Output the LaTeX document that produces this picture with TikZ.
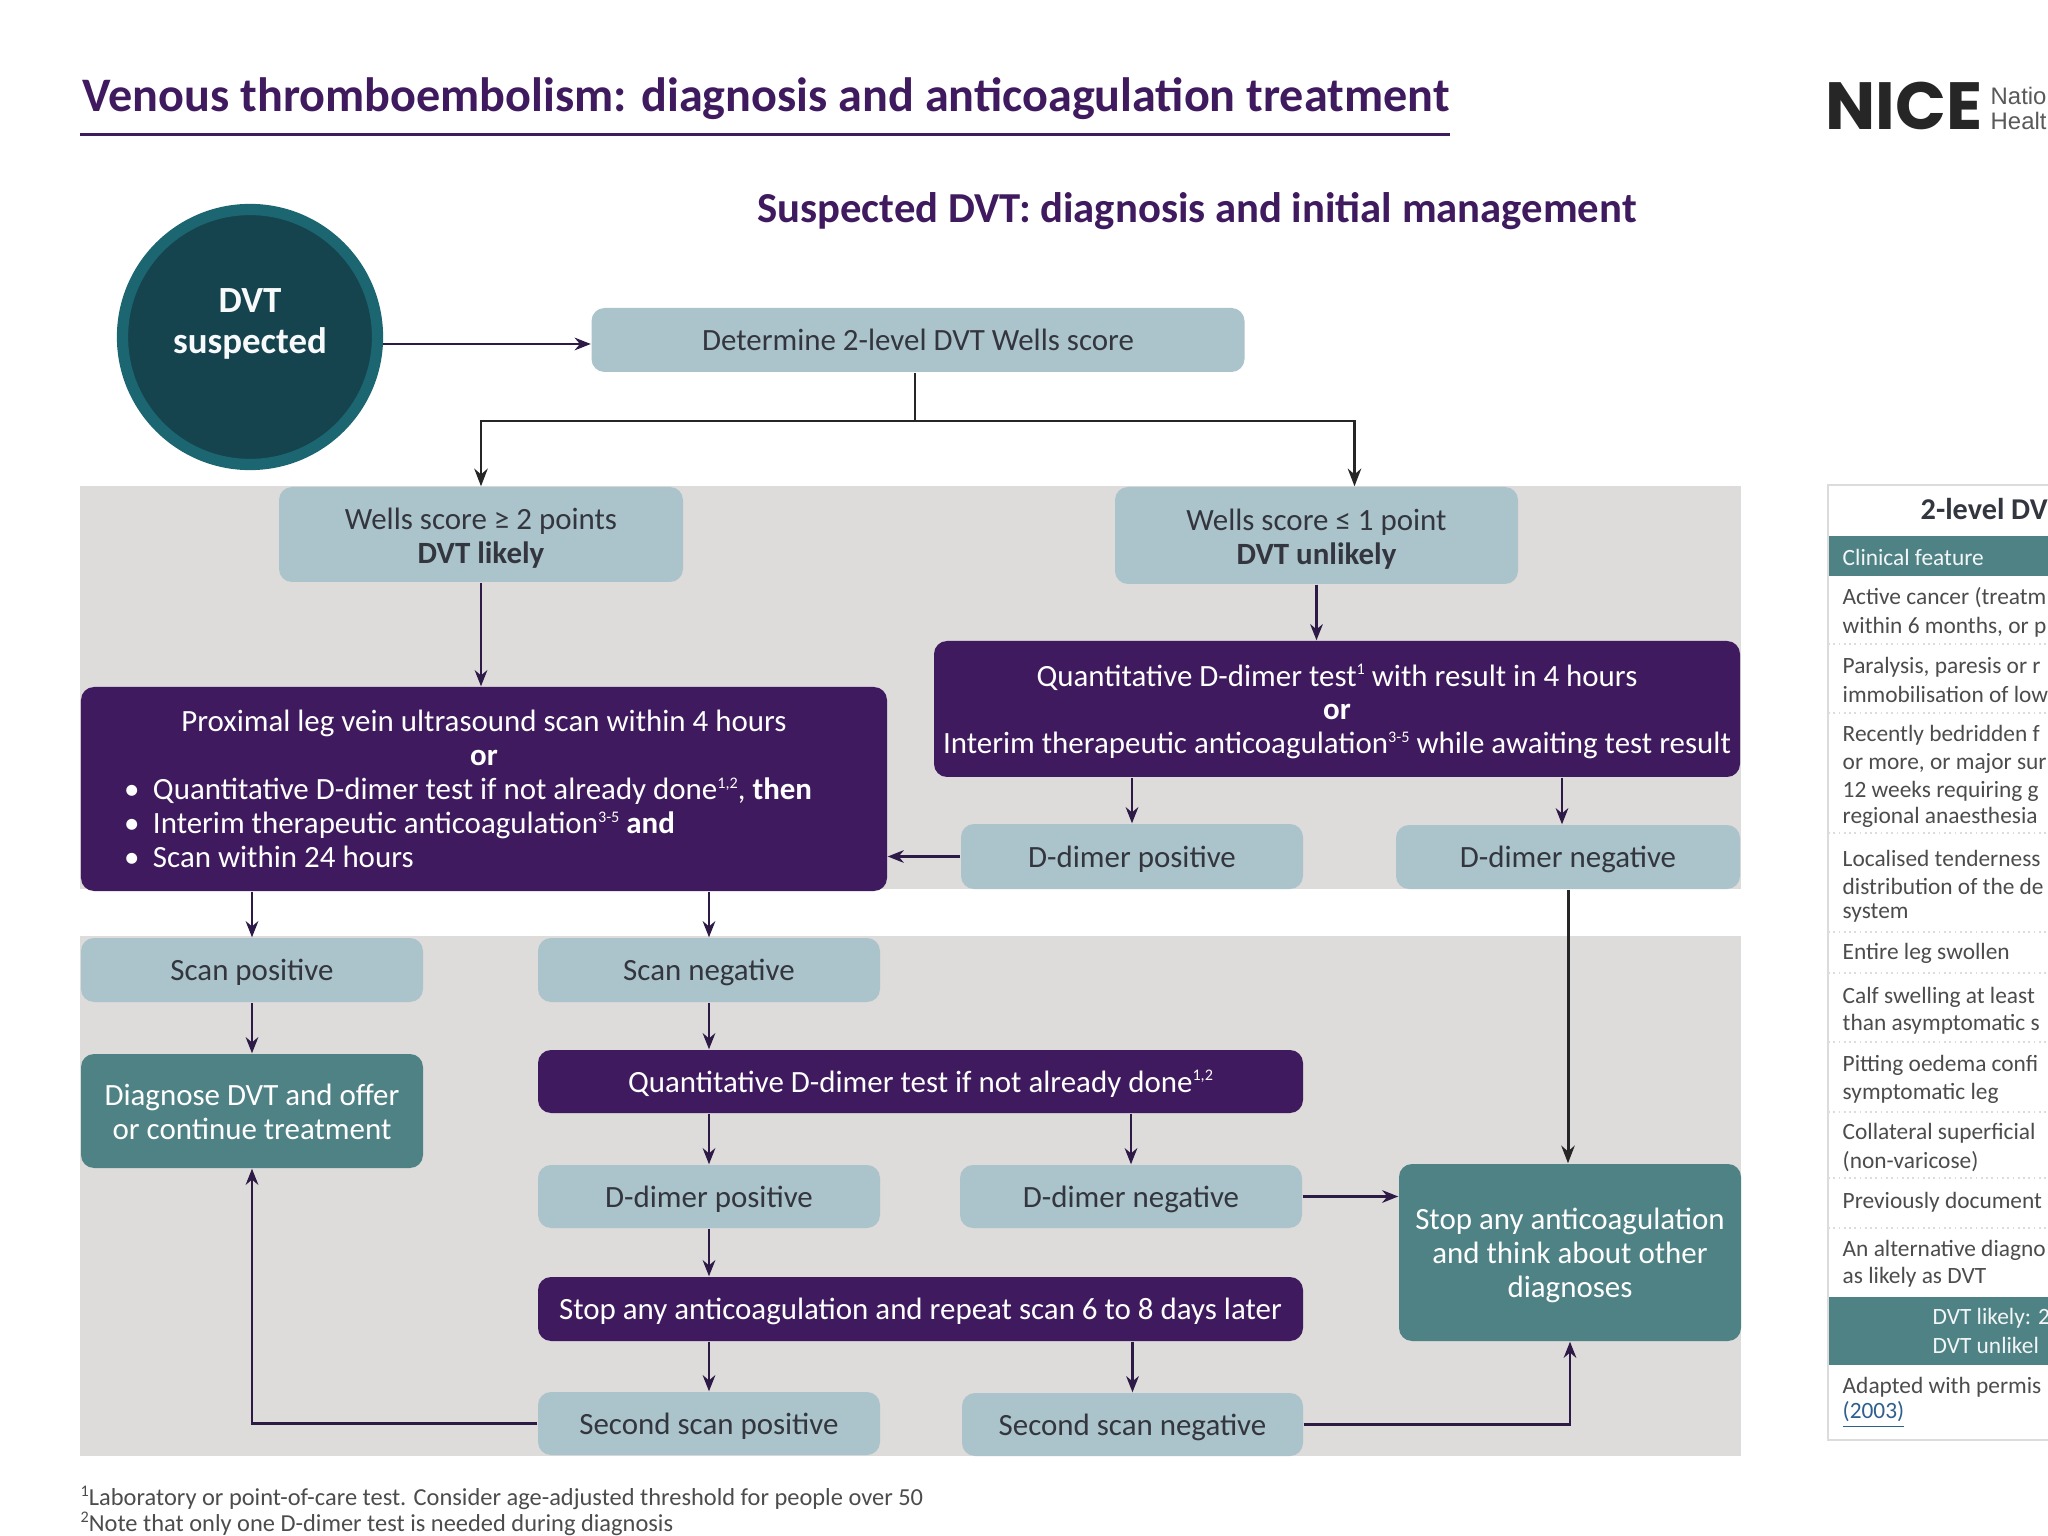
\documentclass[tikz,border=0pt]{standalone}
\usepackage{fontspec}
\setmainfont{Carlito}
\newfontfamily\logofont{Poppins}
\newfontfamily\logosmall{Liberation Sans}
\usepackage{xcolor}
\definecolor{nicePurple}{HTML}{3F1A5E}
\definecolor{niceLine}{HTML}{2E1A47}
\definecolor{niceBlue}{HTML}{ABC3CA}
\definecolor{niceBand}{HTML}{DEDBDB}
\definecolor{niceTeal}{HTML}{4F8285}
\definecolor{niceDark}{HTML}{15444E}
\definecolor{niceRing}{HTML}{1B6670}
\definecolor{niceInk}{HTML}{33363F}
\definecolor{niceGrey}{HTML}{4C4C4C}
\definecolor{niceRule}{HTML}{DCDCDC}
\definecolor{niceLink}{HTML}{2F5F8F}
\usetikzlibrary{arrows.meta}
\tikzset{
  boxtext/.style={rounded corners=1.3mm, inner sep=0pt, align=center},
  oneline/.style={text height=6pt, text depth=0pt},
  twolines/.style={text height=16.4pt, text depth=0pt},
  threelines/.style={text height=25.6pt, text depth=0pt},
  bluebox/.style={boxtext, fill=niceBlue, text=niceInk},
  purplebox/.style={boxtext, fill=nicePurple, text=white},
  tealbox/.style={boxtext, fill=niceTeal, text=white},
  flow/.style={draw=niceLine, line width=0.7pt, -{Stealth[length=4.6pt,width=3.6pt]}},
  blackflow/.style={draw=black!85, line width=0.85pt, -{Stealth[length=5pt,width=3.8pt]}},
  rowtext/.style={anchor=west, inner sep=0pt, text=niceGrey, font=\fontsize{6.65}{7.5}\selectfont},
  rowrule/.style={niceRule, line width=0.5pt, densely dotted},
  foot/.style={anchor=west, inner sep=0pt, text=niceGrey, font=\fontsize{6.95}{7.5}\selectfont}
}
\newcommand{\bulletline}[1]{\hspace*{0.43cm}\makebox[0.29cm][l]{\textbullet}#1}
\newcommand{\supnum}[1]{\raisebox{0.75ex}{\fontsize{4.6}{5}\selectfont #1}}

\begin{document}
\begin{tikzpicture}[font=\fontsize{8.8}{9.67}\selectfont]
  \useasboundingbox (0,0) rectangle (20.48,-15.36);
  \clip (0,0) rectangle (20.48,-15.36);
  \fill[white] (0,0) rectangle (20.48,-15.36);

  % headings
  \node[anchor=west, inner sep=0pt, text=nicePurple, font=\fontsize{13.7}{15}\selectfont\bfseries] (title) at (0.82,-0.985) {Venous thromboembolism: diagnosis and anticoagulation treatment};
  \draw[nicePurple, line width=0.6pt] (0.80,-1.345) -- (14.50,-1.345);
  \node[text=nicePurple, inner sep=0pt, font=\fontsize{12.15}{14}\selectfont\bfseries] (subtitle) at (11.97,-2.115) {Suspected DVT: diagnosis and initial management};

  % logo
  \node[anchor=west, inner sep=0pt, text=black!85, font=\logofont\fontsize{19}{20}\selectfont\bfseries] (nice) at (18.25,-1.06) {NICE};
  \node[anchor=west, inner sep=0pt, align=left, text=black!65, font=\logosmall\fontsize{6.8}{7.3}\selectfont] (nicename) at (19.90,-1.085) {Natio\\Healt};

  % bands
  \fill[niceBand] (0.80,-4.86) rectangle (17.41,-8.89);
  \fill[niceBand] (0.80,-9.36) rectangle (17.41,-14.56);

  % start
  \node[circle, fill=niceDark, draw=niceRing, line width=3.2pt, minimum size=2.55cm, inner sep=0pt, align=center, text=white!90!niceBlue, font=\fontsize{10.5}{11.6}\selectfont\bfseries] (dvt) at (2.50,-3.37) {DVT\\suspected\\[-2.5pt]\mbox{}};
  \node[bluebox, oneline, minimum width=6.53cm, minimum height=0.64cm] (determine) at (9.18,-3.40) {Determine 2-level DVT Wells score};
  \node[bluebox, twolines, minimum width=4.04cm, minimum height=0.95cm] (likely) at (4.81,-5.345) {Wells score ≥ 2 points\\\textbf{DVT likely}};
  \node[bluebox, twolines, minimum width=4.03cm, minimum height=0.97cm] (unlikely) at (13.165,-5.355) {Wells score ≤ 1 point\\\textbf{DVT unlikely}};

  \node[purplebox, minimum width=8.06cm, minimum height=2.04cm, text width=8.06cm, align=flush left] (proximal) at (4.84,-7.89) {%
    \makebox[\linewidth]{Proximal leg vein ultrasound scan within 4 hours}\\
    \makebox[\linewidth]{\textbf{or}}\\
    \bulletline{Quantitative D-dimer test if not already done\supnum{1,2}, \textbf{then}}\\
    \bulletline{Interim therapeutic anticoagulation\supnum{3-5} \textbf{and}}\\
    \bulletline{Scan within 24 hours}};
  \node[purplebox, threelines, minimum width=8.06cm, minimum height=1.36cm] (quantfirst) at (13.37,-7.09) {Quantitative D-dimer test\supnum{1} with result in 4 hours\\\textbf{or}\\Interim therapeutic anticoagulation\supnum{3-5} while awaiting test result};
  \node[bluebox, oneline, minimum width=3.42cm, minimum height=0.65cm] (dposfirst) at (11.32,-8.565) {D-dimer positive};
  \node[bluebox, oneline, minimum width=3.44cm, minimum height=0.64cm] (dnegfirst) at (15.68,-8.57) {D-dimer negative};

  \node[bluebox, oneline, minimum width=3.42cm, minimum height=0.64cm] (scanpos) at (2.52,-9.70) {Scan positive};
  \node[bluebox, oneline, minimum width=3.42cm, minimum height=0.64cm] (scanneg) at (7.09,-9.70) {Scan negative};
  \node[tealbox, twolines, minimum width=3.42cm, minimum height=1.14cm] (diagnose) at (2.52,-11.11) {Diagnose DVT and offer\\or continue treatment};
  \node[purplebox, oneline, minimum width=7.65cm, minimum height=0.63cm] (quantsecond) at (9.205,-10.815) {Quantitative D-dimer test if not already done\supnum{1,2}};
  \node[bluebox, oneline, minimum width=3.42cm, minimum height=0.63cm] (dpossecond) at (7.09,-11.965) {D-dimer positive};
  \node[bluebox, oneline, minimum width=3.42cm, minimum height=0.63cm] (dnegsecond) at (11.31,-11.965) {D-dimer negative};
  \node[tealbox, threelines, minimum width=3.42cm, minimum height=1.77cm] (stop) at (15.70,-12.525) {Stop any anticoagulation\\and think about other\\diagnoses};
  \node[purplebox, oneline, minimum width=7.65cm, minimum height=0.64cm] (repeat) at (9.205,-13.09) {Stop any anticoagulation and repeat scan 6 to 8 days later};
  \node[bluebox, oneline, minimum width=3.42cm, minimum height=0.63cm] (secondpos) at (7.09,-14.235) {Second scan positive};
  \node[bluebox, oneline, minimum width=3.41cm, minimum height=0.63cm] (secondneg) at (11.325,-14.245) {Second scan negative};

  % connectors
  \draw[flow] ([yshift=-0.4mm]dvt.east |- determine.west) -- ([yshift=-0.4mm]determine.west);
  \coordinate (split) at (9.15,-4.21);
  \draw[black!85, line width=0.85pt] (determine.south -| split) -- (split);
  \draw[blackflow] (split) -| (likely.north);
  \draw[blackflow] (split) -| ([xshift=3.8mm]unlikely.north);
  \draw[flow] (likely.south) -- (likely.south |- proximal.north);
  \draw[flow] (unlikely.south) -- (unlikely.south |- quantfirst.north);
  \draw[flow] (dposfirst.north |- quantfirst.south) -- (dposfirst.north);
  \draw[flow] ([xshift=-0.6mm]dnegfirst.north |- quantfirst.south) -- ([xshift=-0.6mm]dnegfirst.north);
  \draw[flow] (dposfirst.west) -- (dposfirst.west -| proximal.east);
  \draw[blackflow] (dnegfirst.south) -- (dnegfirst.south |- stop.north);
  \draw[flow] (scanpos.north |- proximal.south) -- (scanpos.north);
  \draw[flow] (scanneg.north |- proximal.south) -- (scanneg.north);
  \draw[flow] (scanpos.south) -- (diagnose.north);
  \draw[flow] (scanneg.south) -- (scanneg.south |- quantsecond.north);
  \draw[flow] (dpossecond.north |- quantsecond.south) -- (dpossecond.north);
  \draw[flow] (dnegsecond.north |- quantsecond.south) -- (dnegsecond.north);
  \draw[flow] (dnegsecond.east) -- (dnegsecond.east -| stop.west);
  \draw[flow] (dpossecond.south) -- (dpossecond.south |- repeat.north);
  \draw[flow] (secondpos.north |- repeat.south) -- (secondpos.north);
  \draw[flow] (secondneg.north |- repeat.south) -- (secondneg.north);
  \draw[flow] (secondpos.west) -| (diagnose.south);
  \draw[flow] (secondneg.east) -| (stop.south);

  % footnotes
  \node[foot] (footone) at (0.80,-14.98) {\supnum{1}Laboratory or point-of-care test. Consider age-adjusted threshold for people over 50};
  \node[foot] (foottwo) at (0.80,-15.24) {\supnum{2}Note that only one D-dimer test is needed during diagnosis};

  % score table
  \fill[niceTeal] (18.28,-5.36) rectangle (20.48,-5.76);
  \fill[niceTeal] (18.28,-12.97) rectangle (20.48,-13.65);
  \draw[niceRule, line width=0.7pt] (20.48,-4.85) -- (18.28,-4.85) -- (18.28,-14.40) -- (20.48,-14.40);
  \node[anchor=west, inner sep=0pt, text=niceInk, font=\fontsize{8.6}{10}\selectfont\bfseries] (tabletitle) at (19.20,-5.09) {2-level DV};
  \node[rowtext, text=white!85!niceBlue] (rowhead) at (18.42,-5.57) {Clinical feature};
  \node[rowtext] (rowa) at (18.42,-5.98) {Active cancer (treatm};
  \node[rowtext] (rowb) at (18.42,-6.27) {within 6 months, or p};
  \draw[rowrule] (18.28,-6.44) -- (20.48,-6.44);
  \node[rowtext] (rowc) at (18.42,-6.67) {Paralysis, paresis or r};
  \node[rowtext] (rowd) at (18.42,-6.94) {immobilisation of low};
  \draw[rowrule] (18.28,-7.13) -- (20.48,-7.13);
  \node[rowtext] (rowe) at (18.42,-7.35) {Recently bedridden f};
  \node[rowtext] (rowf) at (18.42,-7.63) {or more, or major sur};
  \node[rowtext] (rowg) at (18.42,-7.91) {12 weeks requiring g};
  \node[rowtext] (rowh) at (18.42,-8.17) {regional anaesthesia};
  \draw[rowrule] (18.28,-8.33) -- (20.48,-8.33);
  \node[rowtext] (rowi) at (18.42,-8.58) {Localised tenderness};
  \node[rowtext] (rowj) at (18.42,-8.86) {distribution of the de};
  \node[rowtext] (rowk) at (18.42,-9.13) {system};
  \draw[rowrule] (18.28,-9.32) -- (20.48,-9.32);
  \node[rowtext] (rowl) at (18.42,-9.53) {Entire leg swollen};
  \draw[rowrule] (18.28,-9.73) -- (20.48,-9.73);
  \node[rowtext] (rowm) at (18.42,-9.97) {Calf swelling at least};
  \node[rowtext] (rown) at (18.42,-10.24) {than asymptomatic s};
  \draw[rowrule] (18.28,-10.42) -- (20.48,-10.42);
  \node[rowtext] (rowo) at (18.42,-10.65) {Pitting oedema confi};
  \node[rowtext] (rowp) at (18.42,-10.93) {symptomatic leg};
  \draw[rowrule] (18.28,-11.12) -- (20.48,-11.12);
  \node[rowtext] (rowq) at (18.42,-11.33) {Collateral superficial};
  \node[rowtext] (rowr) at (18.42,-11.62) {(non-varicose)};
  \draw[rowrule] (18.28,-11.78) -- (20.48,-11.78);
  \node[rowtext] (rows) at (18.42,-12.02) {Previously document};
  \draw[rowrule] (18.28,-12.28) -- (20.48,-12.28);
  \node[rowtext] (rowt) at (18.42,-12.50) {An alternative diagno};
  \node[rowtext] (rowu) at (18.42,-12.77) {as likely as DVT};
  \node[rowtext, text=white!85!niceBlue] (rowv) at (19.32,-13.18) {DVT likely: 2};
  \node[rowtext, text=white!85!niceBlue] (roww) at (19.32,-13.45) {DVT unlikel};
  \node[rowtext] (rowx) at (18.42,-13.87) {Adapted with permis};
  \node[rowtext, text=niceLink] (rowy) at (18.42,-14.15) {\underline{(2003)}};
\end{tikzpicture}
\end{document}
